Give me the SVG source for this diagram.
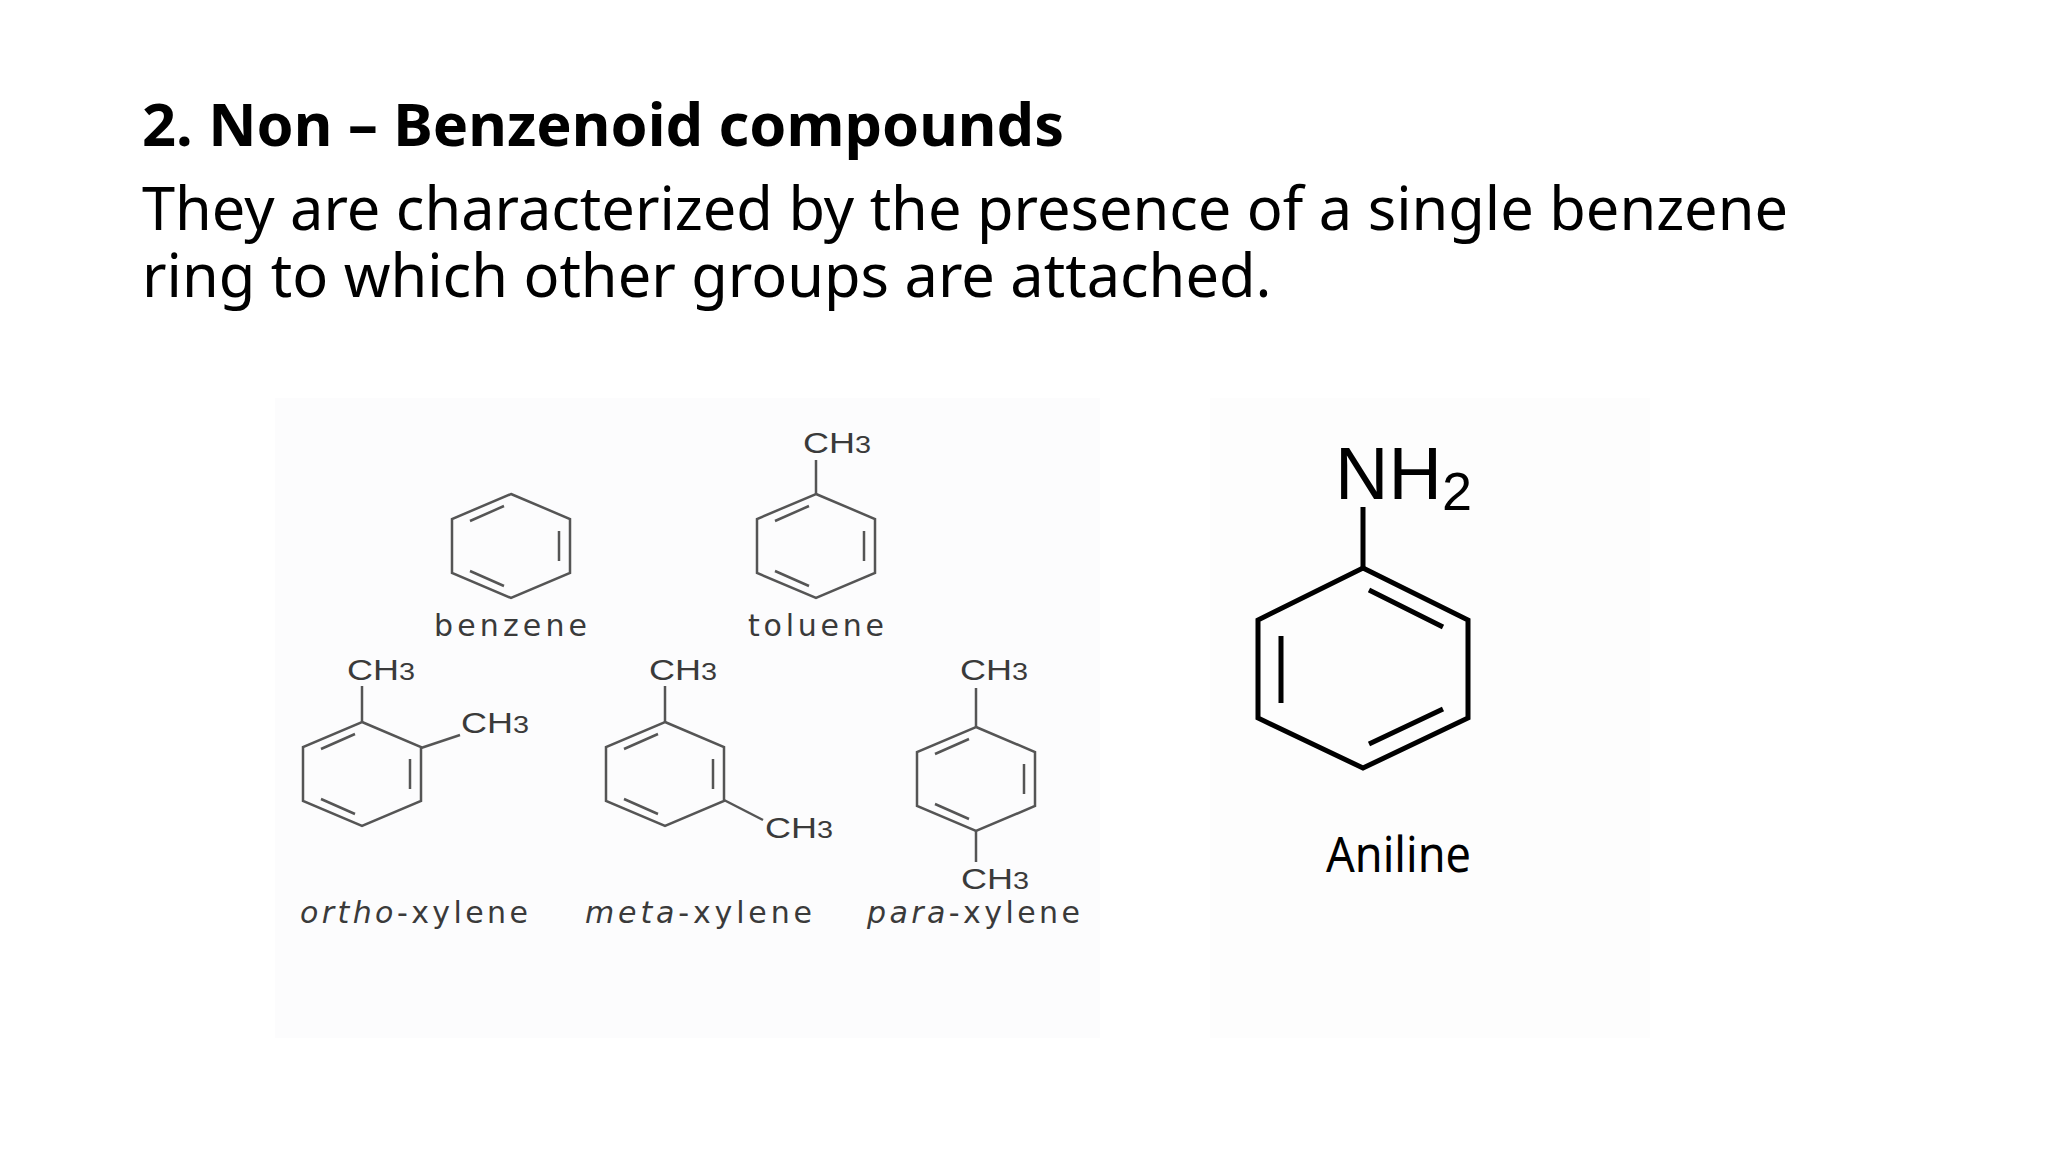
<svg xmlns="http://www.w3.org/2000/svg" xmlns:xlink="http://www.w3.org/1999/xlink" width="2048" height="1152" viewBox="0 0 2048 1152">
<style>
.t{font-family:"Noto Sans","Open Sans",sans-serif;fill:#000}
.m{font-family:"DejaVu Sans","Liberation Sans",sans-serif;fill:#3a3a3a;font-size:30px}
.c{font-family:"Liberation Sans",Arial,sans-serif;fill:#3a3a3a;font-size:30px}
.b{fill:none;stroke:#555;stroke-width:2.5}
.a{fill:none;stroke:#000;stroke-width:5}
</style>
<defs>
<g id="ring">
<polygon class="b" points="0,-52 59,-27 59,27 0,52 -59,27 -59,-27"/>
<path class="b" d="M-7,-40 L-41,-25 M48,-15 L48,15 M-41,25 L-7,40"/>
</g>
</defs>
<rect width="2048" height="1152" fill="#fff"/>
<rect x="275" y="398" width="825" height="640" fill="#fcfcfd"/>
<rect x="1210" y="398" width="440" height="640" fill="#fdfdfd"/>
<g id="title">
<text class="t" x="142" y="146" font-size="59.5" font-weight="bold">2. Non – Benzenoid compounds</text>
<text class="t" x="142" y="230" font-size="59.5">They are characterized by the presence of a single benzene</text>
<text class="t" x="142" y="297" font-size="59.5">ring to which other groups are attached.</text>
</g>
<g id="benzene">
<use xlink:href="#ring" transform="translate(511,546)"/>
<text class="m" x="434" y="636" textLength="153" lengthAdjust="spacing">benzene</text>
</g>
<g id="toluene">
<use xlink:href="#ring" transform="translate(816,546)"/>
<line class="b" x1="816" y1="494" x2="816" y2="460"/>
<text class="c" x="803" y="453" textLength="68" lengthAdjust="spacingAndGlyphs">CH<tspan font-size="24">3</tspan></text>
<text class="m" x="748" y="636" textLength="136" lengthAdjust="spacing">toluene</text>
</g>
<g id="ortho">
<use xlink:href="#ring" transform="translate(362,774)"/>
<line class="b" x1="362" y1="722" x2="362" y2="686"/>
<line class="b" x1="421" y1="748" x2="460" y2="735"/>
<text class="c" x="347" y="680" textLength="68" lengthAdjust="spacingAndGlyphs">CH<tspan font-size="24">3</tspan></text>
<text class="c" x="461" y="733" textLength="68" lengthAdjust="spacingAndGlyphs">CH<tspan font-size="24">3</tspan></text>
<text class="m" x="300" y="923" textLength="228" lengthAdjust="spacing"><tspan font-style="italic">ortho</tspan>-xylene</text>
</g>
<g id="meta">
<use xlink:href="#ring" transform="translate(665,774)"/>
<line class="b" x1="665" y1="722" x2="665" y2="686"/>
<line class="b" x1="724" y1="800" x2="763" y2="820"/>
<text class="c" x="649" y="680" textLength="68" lengthAdjust="spacingAndGlyphs">CH<tspan font-size="24">3</tspan></text>
<text class="c" x="765" y="838" textLength="68" lengthAdjust="spacingAndGlyphs">CH<tspan font-size="24">3</tspan></text>
<text class="m" x="585" y="923" textLength="227" lengthAdjust="spacing"><tspan font-style="italic">meta</tspan>-xylene</text>
</g>
<g id="para">
<use xlink:href="#ring" transform="translate(976,779)"/>
<line class="b" x1="976" y1="727" x2="976" y2="688"/>
<line class="b" x1="976" y1="831" x2="976" y2="862"/>
<text class="c" x="960" y="680" textLength="68" lengthAdjust="spacingAndGlyphs">CH<tspan font-size="24">3</tspan></text>
<text class="c" x="961" y="889" textLength="68" lengthAdjust="spacingAndGlyphs">CH<tspan font-size="24">3</tspan></text>
<text class="m" x="867" y="923" textLength="213" lengthAdjust="spacing"><tspan font-style="italic">para</tspan>-xylene</text>
</g>
<g id="aniline">
<text x="1335" y="499" font-family="Liberation Sans,Arial,sans-serif" font-size="74">NH<tspan font-size="54" dy="11">2</tspan></text>
<line class="a" x1="1363" y1="507" x2="1363" y2="568"/>
<polygon class="a" points="1363,568 1468,620 1468,718 1363,768 1258,718 1258,620" stroke-linejoin="miter"/>
<path class="a" d="M1369,590 L1443,627 M1281,636 L1281,703 M1369,744 L1443,709"/>
<text class="t" x="1326" y="872" font-size="50" textLength="145" lengthAdjust="spacingAndGlyphs">Aniline</text>
</g>
</svg>
